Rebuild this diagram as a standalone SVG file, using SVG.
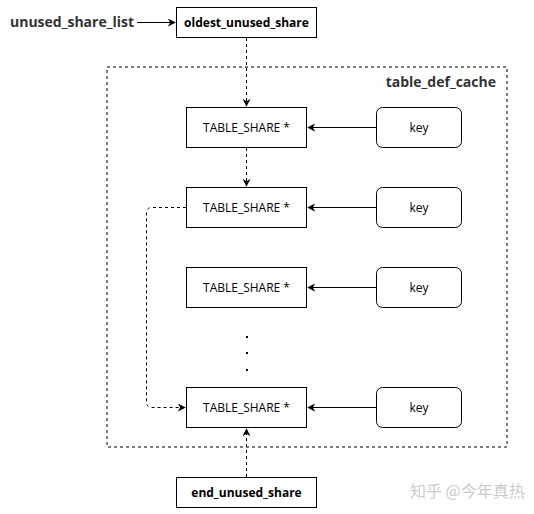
<svg xmlns="http://www.w3.org/2000/svg" width="534" height="514" viewBox="0 0 534 514">
<defs>
<style>
.box{fill:#fff;stroke:#000;stroke-width:1}
.t{font-family:"Open Sans","Noto Sans",sans-serif;font-size:12px;fill:#000;text-anchor:middle;dominant-baseline:central}
.b{font-weight:bold}
.lbl{font-family:"Open Sans","Noto Sans",sans-serif;font-size:14px;font-weight:bold;fill:#333}
.solid{fill:none;stroke:#000;stroke-width:1}
.dash{fill:none;stroke:#000;stroke-width:1;stroke-dasharray:3,3}
</style>
<marker id="ah" viewBox="0 0 10 10" refX="9" refY="5" markerWidth="8" markerHeight="8" markerUnits="userSpaceOnUse" orient="auto">
<path d="M0,0 L10,5 L0,10 L3,5 Z" fill="#000"/>
</marker>
</defs>
<rect width="534" height="514" fill="#fff"/>
<g id="container">
<rect x="107" y="67" width="400" height="380" class="dash"/>
<text x="496" y="87" class="lbl" text-anchor="end">table_def_cache</text>
</g>
<g id="unused_share_list"><text x="10" y="27" class="lbl">unused_share_list</text></g>
<g id="oldest_unused_share"><rect x="176.5" y="7.5" width="140" height="30" class="box"/><text x="246.5" y="22.5" class="t b">oldest_unused_share</text></g>
<g id="share1"><rect x="186.5" y="107.5" width="120" height="40" class="box"/><text x="246.5" y="127.5" class="t">TABLE_SHARE *</text></g>
<g id="share2"><rect x="186.5" y="187.5" width="120" height="40" class="box"/><text x="246.5" y="207.5" class="t">TABLE_SHARE *</text></g>
<g id="share3"><rect x="186.5" y="267.5" width="120" height="40" class="box"/><text x="246.5" y="287.5" class="t">TABLE_SHARE *</text></g>
<g id="share4"><rect x="186.5" y="387.5" width="120" height="40" class="box"/><text x="246.5" y="407.5" class="t">TABLE_SHARE *</text></g>
<g id="key1"><rect x="376.5" y="107.5" width="85" height="40" rx="6" class="box"/><text x="419" y="127.5" class="t">key</text></g>
<g id="key2"><rect x="376.5" y="187.5" width="85" height="40" rx="6" class="box"/><text x="419" y="207.5" class="t">key</text></g>
<g id="key3"><rect x="376.5" y="267.5" width="85" height="40" rx="6" class="box"/><text x="419" y="287.5" class="t">key</text></g>
<g id="key4"><rect x="376.5" y="387.5" width="85" height="40" rx="6" class="box"/><text x="419" y="407.5" class="t">key</text></g>
<g id="dots" fill="#000"><rect x="246" y="336" width="2" height="2"/><rect x="246" y="352" width="2" height="2"/><rect x="246" y="369" width="2" height="2"/></g>
<g id="end_unused_share"><rect x="176.5" y="477.5" width="140" height="30" class="box"/><text x="246.5" y="492.5" class="t b">end_unused_share</text></g>
<g id="connectors">
<path d="M137,22.5 H175" class="solid" marker-end="url(#ah)"/>
<path d="M246.5,38 V106" class="dash" marker-end="url(#ah)"/>
<path d="M246.5,148 V186" class="dash" marker-end="url(#ah)"/>
<path d="M376,127.5 H308" class="solid" marker-end="url(#ah)"/>
<path d="M376,207.5 H308" class="solid" marker-end="url(#ah)"/>
<path d="M376,287.5 H308" class="solid" marker-end="url(#ah)"/>
<path d="M376,407.5 H308" class="solid" marker-end="url(#ah)"/>
<path d="M186,207.5 H152 Q146.5,207.5 146.5,213 V402 Q146.5,407.5 152,407.5 H185" class="dash" marker-end="url(#ah)"/>
<path d="M246.5,477 V429" class="dash" marker-end="url(#ah)"/>
</g>
<text x="410" y="497" font-family="'Noto Sans CJK SC',sans-serif" font-size="16" fill="#ccc">知乎 @今年真热</text>
</svg>
